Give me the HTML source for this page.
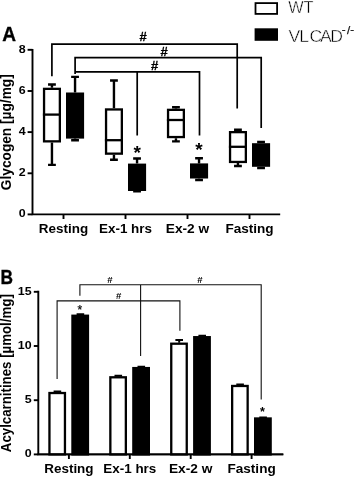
<!DOCTYPE html>
<html><head><meta charset="utf-8"><title>Figure</title>
<style>
html,body{margin:0;padding:0;background:#fff;}
svg{display:block;}
text{font-family:"Liberation Sans",Arial,sans-serif;fill:#000;}
.b{font-weight:bold;}
</style></head><body>
<svg width="355" height="477" viewBox="0 0 355 477">
<rect width="355" height="477" fill="#fff"/>

<rect x="255.5" y="3.1" width="21.6" height="10.8" fill="#fff" stroke="#000" stroke-width="1.8"/>
<rect x="254.6" y="28.3" width="23.4" height="12.5" fill="#000"/>
<text x="288.2 303.4" y="12.9" font-size="16.3" fill="#2a2a2a" stroke="#fff" stroke-width="0.45">WT</text>
<text transform="scale(1.08 1)" x="267.13 277.04 286.48 296.30 305.74" y="42.3" font-size="16.3" fill="#2a2a2a" stroke="#fff" stroke-width="0.45">VLCAD</text>
<text x="341.7 346.9 350.3" y="33.3 33.9 33.3" font-size="11.5" fill="#222" stroke="#222" stroke-width="0.25">-/-</text>
<text class="b" x="2.2" y="40.5" font-size="20.3" textLength="13.8" lengthAdjust="spacingAndGlyphs" stroke="#000" stroke-width="0.35">A</text>
<path d="M32.5 48.89 V214.4 H280.2" fill="none" stroke="#000" stroke-width="1.9" stroke-linejoin="miter"/>
<line x1="27.6" x2="32.5" y1="214.4" y2="214.4" stroke="#000" stroke-width="1.9"/>
<text class="b" transform="translate(25.6 217.4) scale(1.12 1)" font-size="11.1" text-anchor="end">0</text>
<line x1="27.6" x2="32.5" y1="173.3" y2="173.3" stroke="#000" stroke-width="1.9"/>
<text class="b" transform="translate(25.6 176.3) scale(1.12 1)" font-size="11.1" text-anchor="end">2</text>
<line x1="27.6" x2="32.5" y1="132.1" y2="132.1" stroke="#000" stroke-width="1.9"/>
<text class="b" transform="translate(25.6 135.1) scale(1.12 1)" font-size="11.1" text-anchor="end">4</text>
<line x1="27.6" x2="32.5" y1="91.0" y2="91.0" stroke="#000" stroke-width="1.9"/>
<text class="b" transform="translate(25.6 94.0) scale(1.12 1)" font-size="11.1" text-anchor="end">6</text>
<line x1="27.6" x2="32.5" y1="49.8" y2="49.8" stroke="#000" stroke-width="1.9"/>
<text class="b" transform="translate(25.6 52.8) scale(1.12 1)" font-size="11.1" text-anchor="end">8</text>
<line x1="63.5" x2="63.5" y1="214.4" y2="219.0" stroke="#000" stroke-width="1.9"/>
<text class="b" x="63.5" y="232.9" font-size="13.0" text-anchor="middle" textLength="49.3" lengthAdjust="spacingAndGlyphs">Resting</text>
<line x1="125.5" x2="125.5" y1="214.4" y2="219.0" stroke="#000" stroke-width="1.9"/>
<text class="b" x="125.5" y="232.9" font-size="13.0" text-anchor="middle" textLength="53" lengthAdjust="spacingAndGlyphs">Ex-1 hrs</text>
<line x1="187.5" x2="187.5" y1="214.4" y2="219.0" stroke="#000" stroke-width="1.9"/>
<text class="b" x="187.5" y="232.9" font-size="13.0" text-anchor="middle" textLength="43.5" lengthAdjust="spacingAndGlyphs">Ex-2 w</text>
<line x1="249.5" x2="249.5" y1="214.4" y2="219.0" stroke="#000" stroke-width="1.9"/>
<text class="b" x="249.5" y="232.9" font-size="13.0" text-anchor="middle" textLength="48.2" lengthAdjust="spacingAndGlyphs">Fasting</text>
<text class="b" transform="translate(11.2 190.2) rotate(-90)" font-size="14.1" textLength="116" lengthAdjust="spacingAndGlyphs">Glycogen [µg/mg]</text>
<path d="M51.95 84.5 V87.7 M51.95 142.5 V164.9 M48.050000000000004 84.5 H55.85 M48.050000000000004 164.9 H55.85" stroke="#000" stroke-width="2.4" fill="none"/>
<rect x="44.05" y="88.85" width="15.80" height="52.50" fill="#fff" stroke="#000" stroke-width="2.3"/>
<line x1="42.900000000000006" x2="61.0" y1="114.6" y2="114.6" stroke="#000" stroke-width="2.3"/>
<path d="M113.95 80.5 V108.3 M113.95 154.8 V159.8 M110.05 80.5 H117.85000000000001 M110.05 159.8 H117.85000000000001" stroke="#000" stroke-width="2.4" fill="none"/>
<rect x="106.05" y="109.45" width="15.80" height="44.20" fill="#fff" stroke="#000" stroke-width="2.3"/>
<line x1="104.9" x2="123.0" y1="140.2" y2="140.2" stroke="#000" stroke-width="2.3"/>
<path d="M175.95 107.3 V108.7 M175.95 138.2 V141.4 M172.04999999999998 107.3 H179.85 M172.04999999999998 141.4 H179.85" stroke="#000" stroke-width="2.4" fill="none"/>
<rect x="168.05" y="109.85" width="15.80" height="27.20" fill="#fff" stroke="#000" stroke-width="2.3"/>
<line x1="166.89999999999998" x2="185.0" y1="120" y2="120" stroke="#000" stroke-width="2.3"/>
<path d="M237.95 129.8 V131.0 M237.95 163.1 V166 M234.04999999999998 129.8 H241.85 M234.04999999999998 166 H241.85" stroke="#000" stroke-width="2.4" fill="none"/>
<rect x="230.05" y="132.15" width="15.80" height="29.80" fill="#fff" stroke="#000" stroke-width="2.3"/>
<line x1="228.89999999999998" x2="247.0" y1="146.8" y2="146.8" stroke="#000" stroke-width="2.3"/>
<path d="M75.05 76.9 V92.5 M75.05 138.6 V140.2 M71.14999999999999 76.9 H78.95 M71.14999999999999 140.2 H78.95" stroke="#000" stroke-width="2.4" fill="none"/>
<rect x="67.15" y="93.65" width="15.80" height="43.80" fill="#000" stroke="#000" stroke-width="2.3"/>
<path d="M137.05 158.5 V163.6 M137.05 191.0 V191.4 M133.15 158.5 H140.95000000000002 M133.15 191.4 H140.95000000000002" stroke="#000" stroke-width="2.4" fill="none"/>
<rect x="129.15" y="164.75" width="15.80" height="25.10" fill="#000" stroke="#000" stroke-width="2.3"/>
<path d="M199.05 158.3 V163.4 M199.05 178.5 V180 M195.15 158.3 H202.95000000000002 M195.15 180 H202.95000000000002" stroke="#000" stroke-width="2.4" fill="none"/>
<rect x="191.15" y="164.55" width="15.80" height="12.80" fill="#000" stroke="#000" stroke-width="2.3"/>
<path d="M261.05 142 V143.2 M261.05 166.8 V168 M257.15000000000003 142 H264.95 M257.15000000000003 168 H264.95" stroke="#000" stroke-width="2.4" fill="none"/>
<rect x="253.15" y="144.35" width="15.80" height="21.30" fill="#000" stroke="#000" stroke-width="2.3"/>
<path d="M51.9 76.2 V44.2 H237.2 V108.4" fill="none" stroke="#000" stroke-width="1.7"/>
<path d="M261.2 128 V57.6 H75.1 V74 M75.1 71.8 H199.5 V135.4 M137.2 71.8 V135.4" fill="none" stroke="#000" stroke-width="1.7"/>
<text class="b" x="143.1" y="41.3" font-size="13" text-anchor="middle" stroke="#000" stroke-width="0.3">#</text>
<text class="b" x="164.2" y="55.9" font-size="13" text-anchor="middle" stroke="#000" stroke-width="0.3">#</text>
<text class="b" x="154.6" y="69.7" font-size="13" text-anchor="middle" stroke="#000" stroke-width="0.3">#</text>
<text class="b" x="137.1" y="158.6" font-size="19" text-anchor="middle">*</text>
<text class="b" x="199.0" y="156.3" font-size="19" text-anchor="middle">*</text>
<text class="b" x="0.4" y="283.5" font-size="20" textLength="12.5" lengthAdjust="spacingAndGlyphs" stroke="#000" stroke-width="0.35">B</text>
<path d="M38.3 290.8 V454.4 H283.3" fill="none" stroke="#000" stroke-width="1.9"/>
<line x1="33.8" x2="38.3" y1="454.4" y2="454.4" stroke="#000" stroke-width="1.9"/>
<text class="b" transform="translate(31.6 457.4) scale(1.12 1)" font-size="11.1" text-anchor="end">0</text>
<line x1="33.8" x2="38.3" y1="400.2" y2="400.2" stroke="#000" stroke-width="1.9"/>
<text class="b" transform="translate(31.6 403.2) scale(1.12 1)" font-size="11.1" text-anchor="end">5</text>
<line x1="33.8" x2="38.3" y1="346.0" y2="346.0" stroke="#000" stroke-width="1.9"/>
<text class="b" transform="translate(31.6 349.0) scale(1.12 1)" font-size="11.1" text-anchor="end">10</text>
<line x1="33.8" x2="38.3" y1="291.8" y2="291.8" stroke="#000" stroke-width="1.9"/>
<text class="b" transform="translate(31.6 294.8) scale(1.12 1)" font-size="11.1" text-anchor="end">15</text>
<line x1="68.9" x2="68.9" y1="454.4" y2="459.0" stroke="#000" stroke-width="1.9"/>
<text class="b" x="68.9" y="473.2" font-size="13.0" text-anchor="middle" textLength="49.3" lengthAdjust="spacingAndGlyphs">Resting</text>
<line x1="129.8" x2="129.8" y1="454.4" y2="459.0" stroke="#000" stroke-width="1.9"/>
<text class="b" x="129.8" y="473.2" font-size="13.0" text-anchor="middle" textLength="53" lengthAdjust="spacingAndGlyphs">Ex-1 hrs</text>
<line x1="190.7" x2="190.7" y1="454.4" y2="459.0" stroke="#000" stroke-width="1.9"/>
<text class="b" x="190.7" y="473.2" font-size="13.0" text-anchor="middle" textLength="43.5" lengthAdjust="spacingAndGlyphs">Ex-2 w</text>
<line x1="251.6" x2="251.6" y1="454.4" y2="459.0" stroke="#000" stroke-width="1.9"/>
<text class="b" x="251.6" y="473.2" font-size="13.0" text-anchor="middle" textLength="48.2" lengthAdjust="spacingAndGlyphs">Fasting</text>
<text class="b" transform="translate(11.0 452.2) rotate(-90)" font-size="14.1" textLength="158" lengthAdjust="spacingAndGlyphs">Acylcarnitines [µmol/mg]</text>
<path d="M57.400000000000006 392.07 V391.5 M53.60000000000001 391.5 H61.2" stroke="#000" stroke-width="2.0" fill="none"/>
<rect x="49.45" y="393.02" width="15.50" height="61.38" fill="#fff" stroke="#000" stroke-width="2.3"/>
<path d="M118.30000000000001 376.352 V375.7 M114.50000000000001 375.7 H122.10000000000001" stroke="#000" stroke-width="2.0" fill="none"/>
<rect x="110.35" y="377.30" width="15.50" height="77.10" fill="#fff" stroke="#000" stroke-width="2.3"/>
<path d="M179.2 342.748 V340.0 M175.39999999999998 340.0 H183.0" stroke="#000" stroke-width="2.0" fill="none"/>
<rect x="171.25" y="343.70" width="15.50" height="110.70" fill="#fff" stroke="#000" stroke-width="2.3"/>
<path d="M240.1 385.024 V384.6 M236.29999999999998 384.6 H243.9" stroke="#000" stroke-width="2.0" fill="none"/>
<rect x="232.15" y="385.97" width="15.50" height="68.43" fill="#fff" stroke="#000" stroke-width="2.3"/>
<path d="M80.4 314.7808 V314.3 M76.60000000000001 314.3 H84.2" stroke="#000" stroke-width="2.0" fill="none"/>
<rect x="72.45" y="315.73" width="15.50" height="138.67" fill="#000" stroke="#000" stroke-width="2.3"/>
<path d="M141.3 367.138 V366.8 M137.5 366.8 H145.10000000000002" stroke="#000" stroke-width="2.0" fill="none"/>
<rect x="133.35" y="368.09" width="15.50" height="86.31" fill="#000" stroke="#000" stroke-width="2.3"/>
<path d="M202.2 336.24399999999997 V335.7 M198.39999999999998 335.7 H206.0" stroke="#000" stroke-width="2.0" fill="none"/>
<rect x="194.25" y="337.19" width="15.50" height="117.21" fill="#000" stroke="#000" stroke-width="2.3"/>
<path d="M263.1 417.544 V417.5 M259.3 417.5 H266.90000000000003" stroke="#000" stroke-width="2.0" fill="none"/>
<rect x="255.15" y="418.49" width="15.50" height="35.91" fill="#000" stroke="#000" stroke-width="2.3"/>
<line x1="37.349999999999994" x2="283.3" y1="454.4" y2="454.4" stroke="#000" stroke-width="1.9"/>
<path d="M79.9 295.8 V284.8 H261.2 V399.6 M140.6 284.8 V356.1" fill="none" stroke="#111" stroke-width="1.1"/>
<path d="M57.1 379 V300.9 H179.9 V330.8" fill="none" stroke="#111" stroke-width="1.1"/>
<text class="b" x="110.0" y="283" font-size="9.6" text-anchor="middle">#</text>
<text class="b" x="118.6" y="299.3" font-size="9.6" text-anchor="middle">#</text>
<text class="b" x="199.9" y="283.3" font-size="9.6" text-anchor="middle">#</text>
<text x="79.9" y="314.2" font-size="12" text-anchor="middle" stroke="#000" stroke-width="0.2">*</text>
<text class="b" x="262.5" y="416.0" font-size="12.5" text-anchor="middle">*</text>
</svg></body></html>
